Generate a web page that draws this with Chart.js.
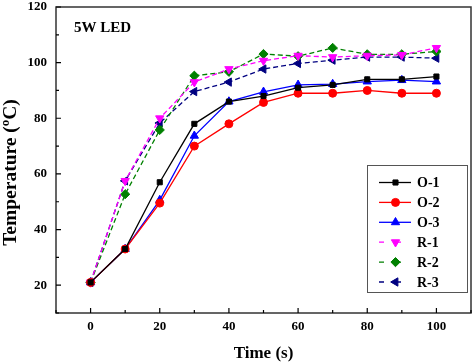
<!DOCTYPE html>
<html>
<head>
<meta charset="utf-8">
<script src="https://cdn.jsdelivr.net/npm/chart.js@4/dist/chart.umd.min.js"></script>
<style>
html,body{margin:0;padding:0;background:#fff;}
#wrap{width:474px;height:364px;}
</style>
</head>
<body>
<div id="wrap"><canvas id="c" width="474" height="364"></canvas></div>
<script>
const times = [0, 10, 20, 30, 40, 50, 60, 70, 80, 90, 100];
const o1 = [21, 33, 57, 78, 86, 88, 91, 92, 94, 94, 95];
const o2 = [21, 33, 49.5, 70, 78, 85.7, 89, 89, 90, 89, 89];
const o3 = [21, 33, 50.6, 73.7, 86, 89.5, 92, 92.3, 93.2, 93.7, 93.2];
const r1 = [21, 57.5, 80, 93, 97.7, 100.7, 102.5, 102, 102.5, 102.8, 105.3];
const r2 = [21, 52.7, 75.8, 95.3, 96.7, 103.1, 102.3, 105.3, 103, 103, 104];
const r3 = [21, 57.5, 78.3, 89.6, 93, 97.7, 99.7, 100.9, 102, 102, 101.6];
const seriesNames = ['O-1', 'O-2', 'O-3', 'R-1', 'R-2', 'R-3'];
const xMajorTicks = [0, 20, 40, 60, 80, 100];
const xMinorTicks = [-10, 10, 30, 50, 70, 90, 110];
const yMajorTicks = [20, 40, 60, 80, 100, 120];
const yMinorTicks = [10, 30, 50, 70, 90, 110];
const chartTitle = '5W LED';
const xTitle = 'Time (s)';
const yTitle = 'Temperature (\u00BAC)';

const SERIF = '"Liberation Serif", "Times New Roman", serif';

function pts(arr){ return arr.map((v,i)=>({x: times[i], y: v})); }

const styles = [
  {color:'#000000', pointStyle:'rect', radius:3.6, rotation:0, dash:[]},
  {color:'#ff0000', pointStyle:'circle', radius:4, rotation:0, dash:[]},
  {color:'#0000ff', pointStyle:'triangle', radius:4.8, rotation:0, dash:[]},
  {color:'#ff00ff', pointStyle:'triangle', radius:4.8, rotation:180, dash:[5,3]},
  {color:'#008000', pointStyle:'rectRot', radius:4.6, rotation:0, dash:[5,3]},
  {color:'#000080', pointStyle:'triangle', radius:4.8, rotation:-90, dash:[5,3]}
];
const allData = [o1, o2, o3, r1, r2, r3];

const datasets = allData.map((d, i) => ({
  label: seriesNames[i],
  data: pts(d),
  borderColor: styles[i].color,
  backgroundColor: styles[i].color,
  borderWidth: 1.3,
  borderDash: styles[i].dash,
  pointStyle: styles[i].pointStyle,
  pointRadius: styles[i].radius,
  pointRotation: styles[i].rotation,
  pointBorderWidth: 1,
  pointBackgroundColor: styles[i].color,
  pointBorderColor: styles[i].color,
  tension: 0,
  fill: false
}));

function drawMarker(ctx, st, x, y){
  ctx.save();
  ctx.fillStyle = st.color;
  ctx.strokeStyle = st.color;
  ctx.setLineDash([]);
  ctx.lineWidth = 1;
  const r = st.radius;
  ctx.translate(x, y);
  ctx.rotate(st.rotation * Math.PI / 180);
  ctx.beginPath();
  if (st.pointStyle === 'rect') {
    const s = r * Math.SQRT1_2 * 2;
    ctx.rect(-s/2, -s/2, s, s);
  } else if (st.pointStyle === 'circle') {
    ctx.arc(0, 0, r, 0, Math.PI*2);
  } else if (st.pointStyle === 'triangle') {
    ctx.moveTo(0, -r);
    ctx.lineTo(r*Math.sin(Math.PI*2/3), -r*Math.cos(Math.PI*2/3));
    ctx.lineTo(-r*Math.sin(Math.PI*2/3), -r*Math.cos(Math.PI*2/3));
    ctx.closePath();
  } else if (st.pointStyle === 'rectRot') {
    ctx.moveTo(0, -r); ctx.lineTo(r, 0); ctx.lineTo(0, r); ctx.lineTo(-r, 0); ctx.closePath();
  }
  ctx.fill();
  ctx.stroke();
  ctx.restore();
}

const decor = {
  id: 'decor',
  afterDatasetsDraw(chart){
    const ctx = chart.ctx;
    const a = chart.chartArea;
    const xs = chart.scales.x, ys = chart.scales.y;
    ctx.save();
    // frame
    ctx.strokeStyle = '#333';
    ctx.lineWidth = 1.5;
    ctx.strokeRect(a.left, a.top, a.right - a.left, a.bottom - a.top);
    // ticks (inward)
    ctx.lineWidth = 1.2;
    ctx.strokeStyle = '#000';
    ctx.beginPath();
    xMajorTicks.forEach(v => { const p = xs.getPixelForValue(v); ctx.moveTo(p, a.bottom); ctx.lineTo(p, a.bottom - 5); });
    xMinorTicks.forEach(v => { const p = xs.getPixelForValue(v); ctx.moveTo(p, a.bottom); ctx.lineTo(p, a.bottom - 3); });
    yMajorTicks.forEach(v => { const p = ys.getPixelForValue(v); ctx.moveTo(a.left, p); ctx.lineTo(a.left + 5, p); });
    yMinorTicks.forEach(v => { const p = ys.getPixelForValue(v); ctx.moveTo(a.left, p); ctx.lineTo(a.left + 3, p); });
    ctx.stroke();
    // title in plot
    ctx.fillStyle = '#000';
    ctx.font = 'bold 15px ' + SERIF;
    ctx.textBaseline = 'middle';
    ctx.textAlign = 'left';
    ctx.fillText(chartTitle, a.left + 18, a.top + 21);
    // y axis title
    ctx.save();
    ctx.font = 'bold 19.5px ' + SERIF;
    ctx.textAlign = 'center';
    ctx.translate(11, 172.5);
    ctx.rotate(-Math.PI / 2);
    ctx.fillText(yTitle, 0, 0);
    ctx.restore();
    // legend
    const lx = 367, ly = 165, lw = 100, lh = 127;
    ctx.fillStyle = '#fff';
    ctx.fillRect(lx, ly, lw, lh);
    ctx.strokeStyle = '#555';
    ctx.lineWidth = 1;
    ctx.strokeRect(lx + 0.5, ly + 0.5, lw, lh);
    ctx.font = 'bold 14px ' + SERIF;
    ctx.textAlign = 'left';
    styles.forEach((st, i) => {
      const y = 182.5 + i * 19.9;
      ctx.strokeStyle = st.color;
      ctx.lineWidth = 1.3;
      ctx.setLineDash(st.dash.length ? [5, 12] : []);
      ctx.beginPath();
      ctx.moveTo(379, y); ctx.lineTo(411, y);
      ctx.stroke();
      ctx.setLineDash([]);
      drawMarker(ctx, st, 395.5, y);
      ctx.fillStyle = '#000';
      ctx.fillText(seriesNames[i], 417, y + 1);
    });
    ctx.restore();
  }
};

new Chart(document.getElementById('c'), {
  type: 'line',
  data: { datasets },
  options: {
    responsive: false,
    animation: false,
    devicePixelRatio: 1,
    layout: { autoPadding: false, padding: { top: 7, right: 3, left: 0, bottom: 0 } },
    plugins: { legend: { display: false }, tooltip: { enabled: false } },
    scales: {
      x: {
        type: 'linear',
        min: -10, max: 110,
        afterBuildTicks: s => { s.ticks = xMajorTicks.map(v => ({value: v})); },
        afterFit: s => { s.height = 51; s.paddingLeft = 0; s.paddingRight = 0; },
        grid: { display: false, drawTicks: false },
        border: { display: false },
        ticks: { color: '#000', padding: 6, font: { family: SERIF, size: 13, weight: 'bold' }, maxRotation: 0 },
        title: { display: true, text: xTitle, color: '#000', padding: { top: 0, bottom: 0 }, font: { family: SERIF, size: 17, weight: 'bold' } }
      },
      y: {
        type: 'linear',
        min: 10, max: 120,
        afterBuildTicks: s => { s.ticks = yMajorTicks.map(v => ({value: v})); },
        afterFit: s => { s.width = 56; s.paddingTop = 0; s.paddingBottom = 0; },
        grid: { display: false, drawTicks: false },
        border: { display: false },
        ticks: { color: '#000', padding: 9, font: { family: SERIF, size: 13, weight: 'bold' } },
        title: { display: false }
      }
    }
  },
  plugins: [decor]
});
</script>
</body>
</html>
